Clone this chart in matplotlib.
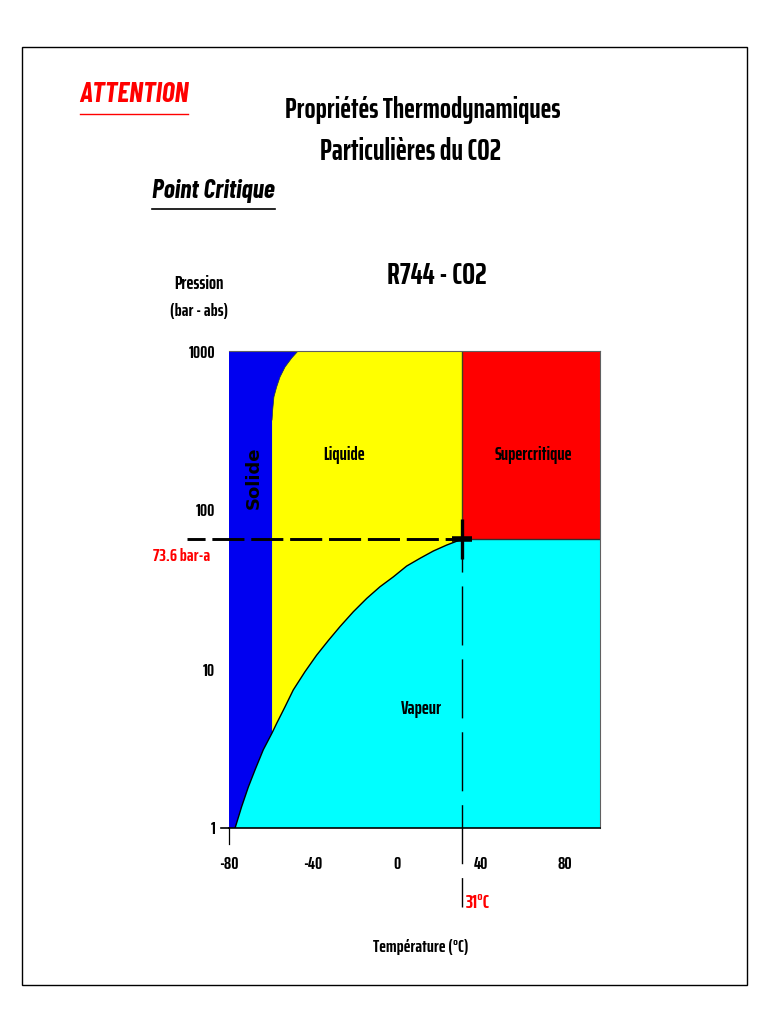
import matplotlib
matplotlib.use("Agg")
import matplotlib.pyplot as plt
from matplotlib.lines import Line2D
from matplotlib.patches import Rectangle

plt.rcParams['font.family'] = ['Saira ExtraCondensed', 'Liberation Sans', 'DejaVu Sans']
ITALIC_FONT = ['Barlow Condensed', 'Liberation Sans', 'DejaVu Sans']

# temperature (C), pressure (bar)
subl_t = [-77.1, -74.0, -70.8, -67.6, -63.7, -59.5]
subl_p = [1.0, 1.36, 1.81, 2.32, 3.1, 3.96]
vap_t = [-59.5, -57.3, -53.3, -49.4, -43.8, -38.3, -32.7, -27.1, -20.8, -14.4, -8.1, -1.7, 4.6, 11.0, 17.3, 23.7, 30.0, 31.0]
vap_p = [3.96, 4.55, 5.79, 7.38, 9.62, 12.2, 15.1, 18.5, 22.9, 27.8, 32.9, 38.0, 44.4, 49.7, 55.2, 60.2, 64.8, 65.7]
melt_t = [-59.5, -59.5, -59.2, -58.6, -57.3, -55.7, -53.3, -50.1, -47.1]
melt_p = [3.96, 368, 425, 514, 594, 686, 793, 904, 1000]
crit_t = 31.0
crit_p = 65.7
x_ticks = [-80, -40, 0, 40, 80]
y_ticks = [1, 10, 100, 1000]
y_labels = ["1", "10", "100", "1000"]
x_max = 96.7

W, H = 768, 1024


def px(x, y):
	return x / W, 1 - y / H


def label(x, y, s, size, color="black", **kw):
	fig.text(x / W, 1 - y / H, s, fontsize=size, color=color,
		fontweight="bold", ha="center", va="center", **kw)


fig = plt.figure(figsize=(7.68, 10.24), dpi=100)
ax = fig.add_axes([229 / W, 1 - 828 / H, (600 - 229) / W, (828 - 351) / H])
ax.set_yscale("log")
ax.set_xlim(-80, x_max)
ax.set_ylim(1, 1000)

# phase regions
ax.fill_between([-80, x_max], 1, 1000, color="#00ffff", lw=0)
ax.fill(vap_t + [crit_t] + melt_t[::-1], vap_p + [1000] + melt_p[::-1], color="#ffff00", lw=0)
ax.fill_between([crit_t, x_max], crit_p, 1000, color="#ff0000", lw=0)
ax.fill([-80] + subl_t + melt_t[1:] + [-80], [1] + subl_p + melt_p[1:] + [1000], color="#0000f0", lw=0)

# boundaries
ax.plot(subl_t + vap_t[1:], subl_p + vap_p[1:], color="black", lw=1)
ax.plot(melt_t[1:], melt_p[1:], color="#333333", lw=0.5)
ax.plot([crit_t, crit_t], [crit_p, 1000], color="#404020", lw=1)
ax.plot([crit_t, x_max], [crit_p, crit_p], color="#303030", lw=1)

# critical point dashes and cross
ax.plot([-100, crit_t], [crit_p, crit_p], color="black", lw=2.1, clip_on=False,
	linestyle=(4.8, (11, 2.33)), dash_capstyle="butt")
ax.plot([crit_t, crit_t], [crit_p, 0.318], color="black", lw=1, clip_on=False,
	linestyle=(18.7, (42.5, 10)), dash_capstyle="butt")
ax.plot([crit_t], [crit_p], marker="|", ms=29, mew=2.4, color="black", clip_on=False)
ax.plot([crit_t], [crit_p], marker="_", ms=14, mew=4, color="black", clip_on=False)

ax.minorticks_off()
ax.set_xticks(x_ticks)
ax.set_xticklabels([str(t) for t in x_ticks], fontsize=13, fontweight="bold")
ax.set_yticks(y_ticks)
ax.set_yticklabels(y_labels, fontsize=13, fontweight="bold")
ax.tick_params(axis="x", length=0, pad=20)
ax.tick_params(axis="y", length=0, pad=10)

for side in ["top", "right"]:
	ax.spines[side].set_color("#606060")
ax.spines["left"].set_visible(False)
ax.spines["bottom"].set_linewidth(1.2)

# little ticks at the origin
fig.add_artist(Line2D(*zip(px(221, 828), px(229, 828)), color="black", lw=1.2))
fig.add_artist(Line2D(*zip(px(229, 828), px(229, 844)), color="black", lw=0.9))

# outer frame
fig.add_artist(Rectangle(px(22, 985), (747 - 22) / W, (985 - 47) / H, fill=False,
	edgecolor="black", lw=1, transform=fig.transFigure))

label(134, 94, "ATTENTION", 20, color="#ff0000", style="italic", family=ITALIC_FONT)
fig.add_artist(Line2D(*zip(px(80, 114), px(188, 114)), color="#ff0000", lw=1))
label(423, 110, "Propriétés Thermodynamiques", 20.8)
label(410, 152, "Particulières du CO2", 21.4)
label(213, 191, "Point Critique", 18.5, style="italic", family=ITALIC_FONT)
fig.add_artist(Line2D(*zip(px(152, 209), px(275, 209)), color="black", lw=1.2))
label(437, 275, "R744 - CO2", 22)
label(199, 284, "Pression", 13.5)
label(199, 311, "(bar - abs)", 13)

label(344, 455, "Liquide", 13.5)
label(533, 455, "Supercritique", 13.5)
label(421, 709, "Vapeur", 13.5)
fig.text(254 / W, 1 - 478 / H, "Solide", fontsize=13, fontweight="bold", rotation=90,
	ha="center", va="center", family=["DejaVu Sans"], color="black")

label(182, 556, "73.6 bar-a", 13, color="#ff0000")
label(478, 903, "31°C", 14, color="#ff0000")
label(421, 947, "Température (°C)", 13)

fig.savefig("out.png", dpi=100)
